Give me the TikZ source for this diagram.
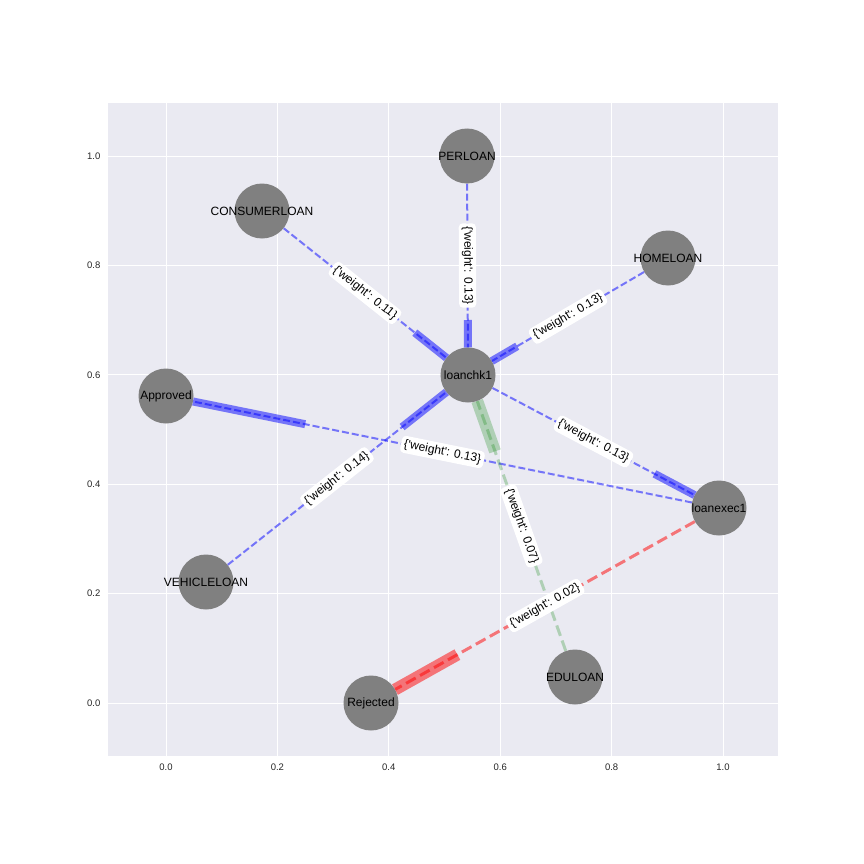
\documentclass[tikz,border=0pt]{standalone}
\usepackage{fontspec}
\setmainfont{Liberation Sans}
\usetikzlibrary{calc}
\definecolor{bgc}{HTML}{EAEAF2}
\definecolor{nodegray}{RGB}{128,128,128}
\definecolor{tickc}{RGB}{38,38,38}
\definecolor{mplgreen}{RGB}{0,128,0}
\pgfdeclarelayer{back}
\pgfdeclarelayer{edges}
\pgfdeclarelayer{elabels}
\pgfsetlayers{back,edges,elabels,main}
\newcommand{\wlab}[1]{\{\textquotesingle weight\textquotesingle: #1\}}
\tikzset{
  vtx/.style={circle, fill=nodegray, minimum size=55pt, inner sep=0pt, draw=none},
  vlab/.style={font=\fontsize{12}{14}\selectfont, text=black, inner sep=0pt},
  bedge/.style={draw=blue, opacity=0.5, line width=2pt, dash pattern=on 7pt off 3pt},
  redge/.style={draw=red, opacity=0.5, line width=3pt, dash pattern=on 11pt off 5pt},
  gedge/.style={draw=mplgreen, opacity=0.25, line width=3pt, dash pattern=on 11pt off 5pt},
  bhead/.style={draw=blue, opacity=0.5, line width=8pt},
  rhead/.style={draw=red, opacity=0.5, line width=12pt},
  ghead/.style={draw=mplgreen, opacity=0.25, line width=12pt},
  elab/.style={fill=white, rounded corners=4pt, inner sep=3pt, font=\fontsize{12}{14}\selectfont, sloped, midway},
  ticklab/.style={font=\fontsize{9.5}{11}\selectfont, text=tickc, inner sep=0pt},
  gridline/.style={white, line width=1pt}
}
\begin{document}
\begin{tikzpicture}[x=1pt,y=-1pt]
\useasboundingbox (0,0) rectangle (864,864);
\begin{pgfonlayer}{back}
  \fill[bgc] (108,103) rectangle (778,756);
  \foreach \x in {166,277.4,388.8,500.2,611.6,723} \draw[gridline] (\x,103) -- (\x,756);
  \foreach \y in {703,593.6,484.2,374.8,265.4,156} \draw[gridline] (108,\y) -- (778,\y);
\end{pgfonlayer}
% tick labels
\foreach \x/\t in {166/0.0,277.4/0.2,388.8/0.4,500.2/0.6,611.6/0.8,723/1.0}
  \node[ticklab] (xt\t) at (\x,767.5) {\t};
\foreach \y/\t in {703/0.0,593.6/0.2,484.2/0.4,374.8/0.6,265.4/0.8,156/1.0}
  \node[ticklab, anchor=east] (yt\t) at (100.5,\y) {\t};
% nodes
\node[vtx] (PERLOAN) at (467,156) {};
\node[vtx] (CONSUMERLOAN) at (262,211) {};
\node[vtx] (HOMELOAN) at (668,258) {};
\node[vtx] (loanchk1) at (468,375) {};
\node[vtx] (Approved) at (166,396) {};
\node[vtx] (loanexec1) at (719,508) {};
\node[vtx] (VEHICLELOAN) at (206,582) {};
\node[vtx] (EDULOAN) at (575,677) {};
\node[vtx] (Rejected) at (371,703) {};
\foreach \n in {PERLOAN,CONSUMERLOAN,HOMELOAN,loanchk1,Approved,loanexec1,VEHICLELOAN,EDULOAN,Rejected}
  \node[vlab] (lab\n) at (\n.center) {\n};
% edges
\begin{pgfonlayer}{edges}
  \draw[bedge] (CONSUMERLOAN) -- (loanchk1);
  \draw[bhead] ($(loanchk1.center)!27.5pt!(CONSUMERLOAN.center)$) -- ($(loanchk1.center)!68pt!(CONSUMERLOAN.center)$);
  \draw[bedge] (PERLOAN) -- (loanchk1);
  \draw[bhead] ($(loanchk1.center)!27.5pt!(PERLOAN.center)$) -- ($(loanchk1.center)!55pt!(PERLOAN.center)$);
  \draw[bedge] (HOMELOAN) -- (loanchk1);
  \draw[bhead] ($(loanchk1.center)!27.5pt!(HOMELOAN.center)$) -- ($(loanchk1.center)!57pt!(HOMELOAN.center)$);
  \draw[bedge] (VEHICLELOAN) -- (loanchk1);
  \draw[bhead] ($(loanchk1.center)!27.5pt!(VEHICLELOAN.center)$) -- ($(loanchk1.center)!84pt!(VEHICLELOAN.center)$);
  \draw[bedge] (loanchk1) -- (loanexec1);
  \draw[bhead] ($(loanexec1.center)!27.5pt!(loanchk1.center)$) -- ($(loanexec1.center)!73pt!(loanchk1.center)$);
  \draw[bedge] (loanexec1) -- (Approved);
  \draw[bhead] ($(Approved.center)!27.5pt!(loanexec1.center)$) -- ($(Approved.center)!142pt!(loanexec1.center)$);
  \draw[redge] (loanexec1) -- (Rejected);
  \draw[rhead] ($(Rejected.center)!27.5pt!(loanexec1.center)$) -- ($(Rejected.center)!99pt!(loanexec1.center)$);
  \draw[gedge] (EDULOAN) -- (loanchk1);
  \draw[ghead] ($(loanchk1.center)!27.5pt!(EDULOAN.center)$) -- ($(loanchk1.center)!81pt!(EDULOAN.center)$);
\end{pgfonlayer}
% edge labels
\begin{pgfonlayer}{elabels}
  \path (CONSUMERLOAN) -- (loanchk1) node[elab] (e1) {\wlab{0.11}};
  \path (PERLOAN) -- (loanchk1) node[elab] (e2) {\wlab{0.13}};
  \path (loanchk1) -- (HOMELOAN) node[elab] (e3) {\wlab{0.13}};
  \path (VEHICLELOAN) -- (loanchk1) node[elab] (e4) {\wlab{0.14}};
  \path (loanchk1) -- (loanexec1) node[elab] (e5) {\wlab{0.13}};
  \path (Approved) -- (loanexec1) node[elab] (e6) {\wlab{0.13}};
  \path (Rejected) -- (loanexec1) node[elab] (e7) {\wlab{0.02}};
  \path (loanchk1) -- (EDULOAN) node[elab] (e8) {\wlab{0.07}};
\end{pgfonlayer}
\end{tikzpicture}
\end{document}
